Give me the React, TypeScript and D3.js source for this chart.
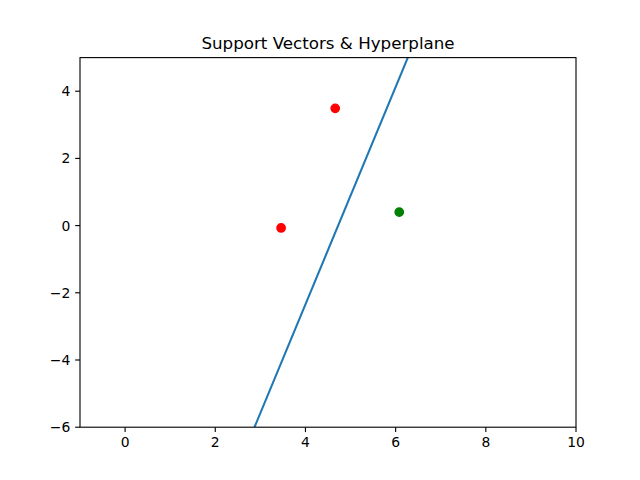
import React from "react";
import * as d3 from "d3";

const xDomain: [number, number] = [-1, 10];
const yDomain: [number, number] = [-6, 5];
const xTicks = [0, 2, 4, 6, 8, 10];
const yTicks = [-6, -4, -2, 0, 2, 4];
const redX = [3.46, 4.66];
const redY = [-0.07, 3.49];
const greenX = [6.08];
const greenY = [0.4];
const lineX = [2.87, 6.27];
const lineY = [-6, 5];
const title = "Support Vectors & Hyperplane";

export default function App() {
  const W = 640, H = 480;
  const left = 80, right = 576, top = 57.6, bottom = 427.2;
  const x = d3.scaleLinear().domain(xDomain).range([left, right]);
  const y = d3.scaleLinear().domain(yDomain).range([bottom, top]);
  const fmt = (v: number) => (v < 0 ? "\u2212" + Math.abs(v) : String(v));
  const line = d3.line<number>().x((_, i) => x(lineX[i])).y((_, i) => y(lineY[i]));
  const tick = 4.86;
  const font = "DejaVu Sans, sans-serif";
  return (
    <svg width={W} height={H} style={{ position: "absolute", left: 0, top: 0 }}>
      <rect x={0} y={0} width={W} height={H} fill="#fff" />
      <defs>
        <clipPath id="clip">
          <rect x={left} y={top} width={right - left} height={bottom - top} />
        </clipPath>
      </defs>
      <g clipPath="url(#clip)">
        <path d={line(lineX) || ""} stroke="#1f77b4" strokeWidth={2.08} fill="none" />
        {redX.map((v, i) => (
          <circle key={"r" + i} cx={x(v)} cy={y(redY[i])} r={4.17} fill="#ff0000" stroke="#ff0000" strokeWidth={1.39} />
        ))}
        {greenX.map((v, i) => (
          <circle key={"g" + i} cx={x(v)} cy={y(greenY[i])} r={4.17} fill="#008000" stroke="#008000" strokeWidth={1.39} />
        ))}
      </g>
      <rect x={left} y={top} width={right - left} height={bottom - top} fill="none" stroke="#000" strokeWidth={1.11} />
      {xTicks.map((t) => (
        <g key={"x" + t}>
          <line x1={x(t)} x2={x(t)} y1={bottom} y2={bottom + tick} stroke="#000" strokeWidth={1.11} />
          <text x={x(t)} y={bottom + tick + 4.86} dominantBaseline="hanging" textAnchor="middle" fontFamily={font} fontSize={13.9}>
            {fmt(t)}
          </text>
        </g>
      ))}
      {yTicks.map((t) => (
        <g key={"y" + t}>
          <line x1={left - tick} x2={left} y1={y(t)} y2={y(t)} stroke="#000" strokeWidth={1.11} />
          <text x={left - tick - 4.86} y={y(t)} dominantBaseline="central" textAnchor="end" fontFamily={font} fontSize={13.9}>
            {fmt(t)}
          </text>
        </g>
      ))}
      <text x={(left + right) / 2} y={top - 8.33} textAnchor="middle" fontFamily={font} fontSize={16.7}>
        {title}
      </text>
    </svg>
  );
}
